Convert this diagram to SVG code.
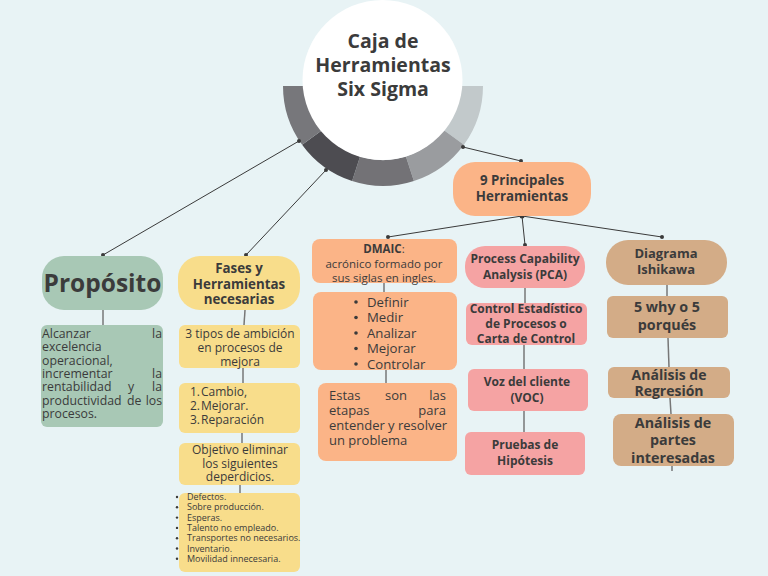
<svg xmlns="http://www.w3.org/2000/svg" width="768" height="576" viewBox="0 0 768 576">
<defs>
<style>
text{font-family:"Open Sans","DejaVu Sans",sans-serif;fill:#3b3b3b}
.b{font-weight:700}
.c{text-anchor:middle}
.e{text-anchor:end}
.green{fill:#a8c8b5}
.yellow{fill:#f8dd8b}
.orange{fill:#fbb487}
.pink{fill:#f5a3a3}
.tan{fill:#d3ac87}
.link{stroke:#3a3a3a;stroke-width:1;fill:none}
.vlink{stroke:#777;stroke-width:1.5;fill:none}
.dot{fill:#3a3a3a}
</style>
</defs>
<rect width="768" height="576" fill="#e8f3f5"/>

<g id="title">
<path d="M483,86 A100,100 0 0 1 463.9,144.8 L442.9,129.5 A74,74 0 0 0 457,86 Z" fill="#c2c9cb"/>
<path d="M463.9,144.8 A100,100 0 0 1 413.9,181.1 L405.9,156.4 A74,74 0 0 0 442.9,129.5 Z" fill="#9a9c9f"/>
<path d="M413.9,181.1 A100,100 0 0 1 352.1,181.1 L360.1,156.4 A74,74 0 0 0 405.9,156.4 Z" fill="#737276"/>
<path d="M352.1,181.1 A100,100 0 0 1 302.1,144.8 L323.1,129.5 A74,74 0 0 0 360.1,156.4 Z" fill="#4d4c51"/>
<path d="M302.1,144.8 A100,100 0 0 1 283,86 L309,86 A74,74 0 0 0 323.1,129.5 Z" fill="#77777b"/>
<circle cx="382.5" cy="80" r="80" fill="#ffffff"/>
<text class="b c" x="383" y="48" font-size="19.5">Caja de</text>
<text class="b c" x="383" y="72" font-size="19.5">Herramientas</text>
<text class="b c" x="383" y="96" font-size="19.5">Six Sigma</text>
</g>

<g id="connectors">
<line class="link" x1="299" y1="141" x2="103" y2="255"/>
<line class="link" x1="326" y1="170" x2="246" y2="255"/>
<line class="link" x1="463" y1="147" x2="521" y2="161"/>
<line class="link" x1="522" y1="216" x2="388" y2="237"/>
<line class="link" x1="522" y1="216" x2="525" y2="245"/>
<line class="link" x1="522" y1="216" x2="662" y2="237"/>
<circle class="dot" cx="299" cy="141" r="2"/>
<circle class="dot" cx="103" cy="255" r="2"/>
<circle class="dot" cx="326" cy="170" r="2"/>
<circle class="dot" cx="246" cy="255" r="2"/>
<circle class="dot" cx="463" cy="147" r="2"/>
<circle class="dot" cx="521" cy="161" r="2"/>
<circle class="dot" cx="522" cy="216" r="2.5"/>
<circle class="dot" cx="388" cy="237" r="2"/>
<circle class="dot" cx="525" cy="245" r="2"/>
<circle class="dot" cx="662" cy="237" r="2"/>
<line class="vlink" x1="103" y1="310" x2="103" y2="325"/>
<line class="vlink" x1="245" y1="310" x2="244" y2="325"/>
<line class="vlink" x1="243" y1="368" x2="243" y2="383"/>
<line class="vlink" x1="242" y1="433" x2="242" y2="443"/>
<line class="vlink" x1="240" y1="485" x2="240" y2="493"/>
<line class="vlink" x1="384" y1="282" x2="384" y2="292"/>
<line class="vlink" x1="386" y1="370" x2="386" y2="383"/>
<line class="vlink" x1="525" y1="288" x2="525" y2="303"/>
<line class="vlink" x1="524" y1="345" x2="524" y2="369"/>
<line class="vlink" x1="524" y1="411" x2="524" y2="432"/>
<line class="vlink" x1="667" y1="284" x2="667" y2="296"/>
<line class="vlink" x1="668" y1="338" x2="669" y2="367"/>
<line class="vlink" x1="670" y1="398" x2="671" y2="414"/>
<line class="vlink" x1="672" y1="466" x2="672" y2="471"/>
</g>

<g id="proposito">
<rect class="green" x="42" y="256" width="121" height="54" rx="22"/>
<text class="b c" x="102.5" y="292" font-size="24.5">Propósito</text>
</g>
<g id="proposito-desc">
<rect class="green" x="41" y="325" width="122" height="102" rx="6"/>
<text font-size="12.3" x="42" y="338">Alcanzar</text>
<text font-size="12.3" x="162" y="338" class="e">la</text>
<text font-size="12.3" x="42" y="351.3">excelencia</text>
<text font-size="12.3" x="42" y="364.6">operacional,</text>
<text font-size="12.3" x="42" y="377.9">incrementar</text>
<text font-size="12.3" x="162" y="377.9" class="e">la</text>
<text font-size="12.3" x="42" y="391.2">rentabilidad</text>
<text font-size="12.3" x="131" y="391.2" class="c">y</text>
<text font-size="12.3" x="162" y="391.2" class="e">la</text>
<text font-size="12.3" x="42" y="404.5">productividad</text>
<text font-size="12.3" x="127" y="404.5">de</text>
<text font-size="12.3" x="162" y="404.5" class="e">los</text>
<text font-size="12.3" x="42" y="417.8">procesos.</text>
</g>

<g id="fases">
<rect class="yellow" x="178" y="256" width="122" height="54" rx="22"/>
<text class="b c" font-size="13.3" x="239" y="273">Fases y</text>
<text class="b c" font-size="13.3" x="239" y="288.5">Herramientas</text>
<text class="b c" font-size="13.3" x="239" y="304">necesarias</text>
</g>
<g id="tipos">
<rect class="yellow" x="179" y="325" width="121" height="43" rx="6"/>
<text class="c" font-size="12" x="240" y="338">3 tipos de ambición</text>
<text class="c" font-size="12" x="240" y="352">en procesos de</text>
<text class="c" font-size="12" x="240" y="366">mejora</text>
</g>
<g id="lista-tipos">
<rect class="yellow" x="179" y="383" width="121" height="50" rx="6"/>
<text class="e" font-size="12" x="200" y="396">1.</text>
<text class="e" font-size="12" x="200" y="410">2.</text>
<text class="e" font-size="12" x="200" y="424">3.</text>
<text font-size="12" x="201" y="396">Cambio,</text>
<text font-size="12" x="201" y="410">Mejorar.</text>
<text font-size="12" x="201" y="424">Reparación</text>
</g>
<g id="objetivo">
<rect class="yellow" x="179" y="443" width="121" height="42" rx="6"/>
<text class="c" font-size="12" x="240" y="454">Objetivo eliminar</text>
<text class="c" font-size="12" x="240" y="467.5">los siguientes</text>
<text class="c" font-size="12" x="240" y="481">deperdicios.</text>
</g>
<g id="desperdicios">
<rect class="yellow" x="179" y="493" width="121" height="79" rx="6"/>
<g class="dot">
<circle cx="177" cy="497" r="1.2"/>
<circle cx="177" cy="507.3" r="1.2"/>
<circle cx="177" cy="517.6" r="1.2"/>
<circle cx="177" cy="527.9" r="1.2"/>
<circle cx="177" cy="538.2" r="1.2"/>
<circle cx="177" cy="548.5" r="1.2"/>
<circle cx="177" cy="558.8" r="1.2"/>
</g>
<text font-size="9" x="187" y="500">Defectos.</text>
<text font-size="9" x="187" y="510.3">Sobre producción.</text>
<text font-size="9" x="187" y="520.6">Esperas.</text>
<text font-size="9" x="187" y="530.9">Talento no empleado.</text>
<text font-size="9" x="187" y="541.2">Transportes no necesarios.</text>
<text font-size="9" x="187" y="551.5">Inventario.</text>
<text font-size="9" x="187" y="561.8">Movilidad innecesaria.</text>
</g>

<g id="dmaic">
<rect class="orange" x="312" y="239" width="145" height="44" rx="8"/>
<text class="c" font-size="11.5" x="384" y="253"><tspan class="b">DMAIC</tspan>:</text>
<text class="c" font-size="11.5" x="384" y="267.5">acrónico formado por</text>
<text class="c" font-size="11.5" x="384" y="281.5">sus siglas en ingles.</text>
</g>
<g id="dmaic-etapas">
<rect class="orange" x="313" y="292" width="144" height="78" rx="8"/>
<g class="dot">
<circle cx="356" cy="302" r="1.8"/>
<circle cx="356" cy="317.5" r="1.8"/>
<circle cx="356" cy="333" r="1.8"/>
<circle cx="356" cy="348.5" r="1.8"/>
<circle cx="356" cy="364" r="1.8"/>
</g>
<text font-size="13.2" x="367" y="306.5">Definir</text>
<text font-size="13.2" x="367" y="322">Medir</text>
<text font-size="13.2" x="367" y="337.5">Analizar</text>
<text font-size="13.2" x="367" y="353">Mejorar</text>
<text font-size="13.2" x="367" y="368.5">Controlar</text>
</g>
<g id="dmaic-desc">
<rect class="orange" x="318" y="383" width="139" height="78" rx="8"/>
<text font-size="13" x="329" y="400">Estas</text>
<text font-size="13" x="396" y="400" class="c">son</text>
<text font-size="13" x="446" y="400" class="e">las</text>
<text font-size="13" x="329" y="415">etapas</text>
<text font-size="13" x="446" y="415" class="e">para</text>
<text font-size="13" x="329" y="430">entender y resolver</text>
<text font-size="13" x="329" y="445">un problema</text>
</g>

<g id="principales">
<rect class="orange" x="453" y="162" width="138" height="54" rx="22"/>
<text class="b c" font-size="13.3" x="522" y="184.5">9 Principales</text>
<text class="b c" font-size="13.3" x="522" y="201">Herramientas</text>
</g>
<g id="pca">
<rect class="pink" x="465" y="246" width="120" height="42" rx="20"/>
<text class="b c" font-size="12" x="525" y="263">Process Capability</text>
<text class="b c" font-size="12" x="525" y="279">Analysis (PCA)</text>
</g>
<g id="control">
<rect class="pink" x="466" y="303" width="121" height="42" rx="6"/>
<text class="b c" font-size="12" x="526" y="313">Control Estadístico</text>
<text class="b c" font-size="12" x="526" y="328">de Procesos o</text>
<text class="b c" font-size="12" x="526" y="343">Carta de Control</text>
</g>
<g id="voc">
<rect class="pink" x="468" y="369" width="120" height="42" rx="6"/>
<text class="b c" font-size="12" x="527" y="386">Voz del cliente</text>
<text class="b c" font-size="12" x="527" y="401.5">(VOC)</text>
</g>
<g id="hipotesis">
<rect class="pink" x="465" y="432" width="120" height="43" rx="6"/>
<text class="b c" font-size="12" x="525" y="448.5">Pruebas de</text>
<text class="b c" font-size="12" x="525" y="464.5">Hipótesis</text>
</g>

<g id="ishikawa">
<rect class="tan" x="606" y="240" width="121" height="45" rx="22"/>
<text class="b c" font-size="13" x="666" y="258">Diagrama</text>
<text class="b c" font-size="13" x="666" y="274">Ishikawa</text>
</g>
<g id="five-why">
<rect class="tan" x="607" y="296" width="121" height="42" rx="6"/>
<text class="b c" font-size="14.3" x="667" y="312">5 why o 5</text>
<text class="b c" font-size="14.3" x="667" y="330">porqués</text>
</g>
<g id="regresion">
<rect class="tan" x="608" y="367" width="122" height="31" rx="6"/>
<text class="b c" font-size="14" x="669" y="379.5">Análisis de</text>
<text class="b c" font-size="14" x="669" y="396">Regresión</text>
</g>
<g id="partes">
<rect class="tan" x="613" y="414" width="121" height="52" rx="8"/>
<text class="b c" font-size="14.3" x="673" y="427.5">Análisis de</text>
<text class="b c" font-size="14.3" x="673" y="445">partes</text>
<text class="b c" font-size="14.3" x="673" y="462.5">interesadas</text>
</g>
</svg>
